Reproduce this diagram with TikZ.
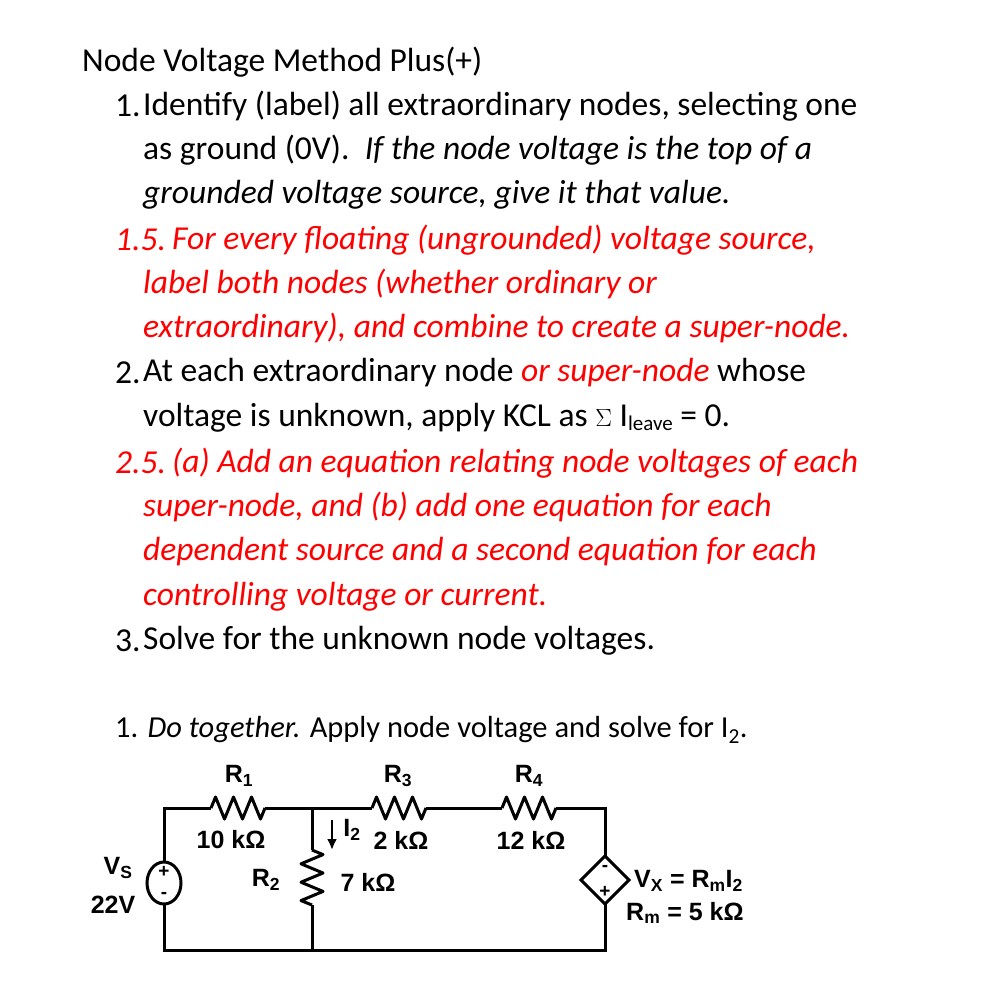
\documentclass[tikz,border=0pt]{standalone}
\usepackage{fontspec}
\setmainfont{Carlito}
\newfontfamily\arial{Liberation Sans}
\usetikzlibrary{arrows.meta}
\begin{document}
\begin{tikzpicture}[x=1pt,y=-1pt,
  txt/.style={anchor=west,inner sep=0pt,font=\fontsize{33.5}{33.5}\selectfont},
  red/.style={text={rgb,255:red,255;green,0;blue,0}},
  lab/.style={inner sep=0pt,font=\arial\bfseries\fontsize{25}{25}\selectfont},
  sgn/.style={inner sep=0pt,font=\arial\bfseries\fontsize{19}{19}\selectfont},
  wire/.style={line width=3pt},
  hres/.pic={\draw[wire,line join=round] (0,0)--(4.5,-11)--(13.5,11)--(22.5,-11)--(31.5,11)--(40.5,-11)--(49.5,11)--(54,0);},
  vres/.pic={\draw[wire,line join=round] (0,0)--(11,4.6)--(-11,13.8)--(11,23)--(-11,32.2)--(11,41.4)--(-11,50.6)--(0,55);}]
\useasboundingbox (0,0) rectangle (981,987);
\fill[white] (0,0) rectangle (981,987);
\node[txt] (t0) at (82,62) {Node Voltage Method Plus(+)};
\node[txt] (n1) at (115,106) {1.};
\node[txt] (l1) at (143,106) {Identify (label) all extraordinary nodes, selecting one};
\node[txt] (l2) at (143,150) {as ground (0V).\ \ \textit{If the node voltage is the top of a}};
\node[txt] (l3) at (143,195) {\textit{grounded voltage source, give it that value.}};
\node[txt,red] (n15) at (115,240) {\textit{1.5.}};
\node[txt,red] (l4) at (172,240) {\textit{For every floating (ungrounded) voltage source,}};
\node[txt,red] (l5) at (143,284) {\textit{label both nodes (whether ordinary or}};
\node[txt,red] (l6) at (143,328) {\textit{extraordinary), and combine to create a super-node.}};
\node[txt] (n2) at (115,373) {2.};
\node[txt] (l7) at (143,373) {At each extraordinary node \textcolor[rgb]{1,0,0}{\textit{or super-node}} whose};
\node[txt] (l8) at (143,418) {voltage is unknown, apply KCL as $\Sigma$ I{\fontsize{21}{21}\selectfont\raisebox{-4pt}{leave}} = 0.};
\node[txt,red] (n25) at (115,463) {\textit{2.5.}};
\node[txt,red] (l9) at (172,463) {\textit{(a) Add an equation relating node voltages of each}};
\node[txt,red] (l10) at (143,507) {\textit{super-node, and (b) add one equation for each}};
\node[txt,red] (l11) at (143,552) {\textit{dependent source and a second equation for each}};
\node[txt,red] (l12) at (143,597) {\textit{controlling voltage or current.}};
\node[txt] (n3) at (115,641) {3.};
\node[txt] (l13) at (143,641) {Solve for the unknown node voltages.};
\node[txt,font=\fontsize{30.5}{30.5}\selectfont] (ex) at (115,730) {1. \textit{Do together.} Apply node voltage and solve for I\textsubscript{2}.};
\coordinate (TL) at (164,808);
\coordinate (TM) at (312,808);
\coordinate (TR) at (605,808);
\coordinate (BL) at (164,950);
\coordinate (BM) at (312,950);
\coordinate (BR) at (605,950);
\coordinate (vsn) at (164,862);
\coordinate (vss) at (164,904);
\coordinate (vxn) at (605,856);
\coordinate (vxs) at (605,904);
\draw[wire] (164,883) ellipse [x radius=17, y radius=21];
\draw[wire,line join=miter] (vxn)--(629,880)--(vxs)--(581,880)--cycle;
\node[sgn] at (164,872) {+};
\node[sgn] at (164,895) {-};
\node[sgn] at (605,868) {-};
\node[sgn] at (605,892) {+};
\draw[wire] (vsn)--(TL)--(211,808);
\pic at (211,808) {hres};
\draw[wire] (265,808)--(TM)--(372,808);
\pic at (372,808) {hres};
\draw[wire] (426,808)--(502,808);
\pic at (502,808) {hres};
\draw[wire] (556,808)--(TR)--(vxn);
\draw[wire] (vxs)--(BR)--(BL)--(vss);
\draw[wire] (TM)--(312,850);
\pic at (312,850) {vres};
\draw[wire] (312,905)--(BM);
\draw[line width=2.5pt,-{Latex[length=11pt,width=10pt]}] (332,820)--(332,850);
\node[lab] at (352,830) {I\textsubscript{2}};
\node[lab] at (239,776) {R\textsubscript{1}};
\node[lab] at (398,776) {R\textsubscript{3}};
\node[lab] at (529,776) {R\textsubscript{4}};
\node[lab] at (231,840) {10 kΩ};
\node[lab] at (401,840) {2 kΩ};
\node[lab] at (531,840) {12 kΩ};
\node[lab] at (266,880) {R\textsubscript{2}};
\node[lab] at (368,882) {7 kΩ};
\node[lab] at (118,868) {V\textsubscript{S}};
\node[lab] at (113,905) {22V};
\node[lab,anchor=west] at (634,881) {V\textsubscript{X} = R\textsubscript{m}I\textsubscript{2}};
\node[lab,anchor=west] at (626,913) {R\textsubscript{m} = 5 kΩ};
\end{tikzpicture}
\end{document}
